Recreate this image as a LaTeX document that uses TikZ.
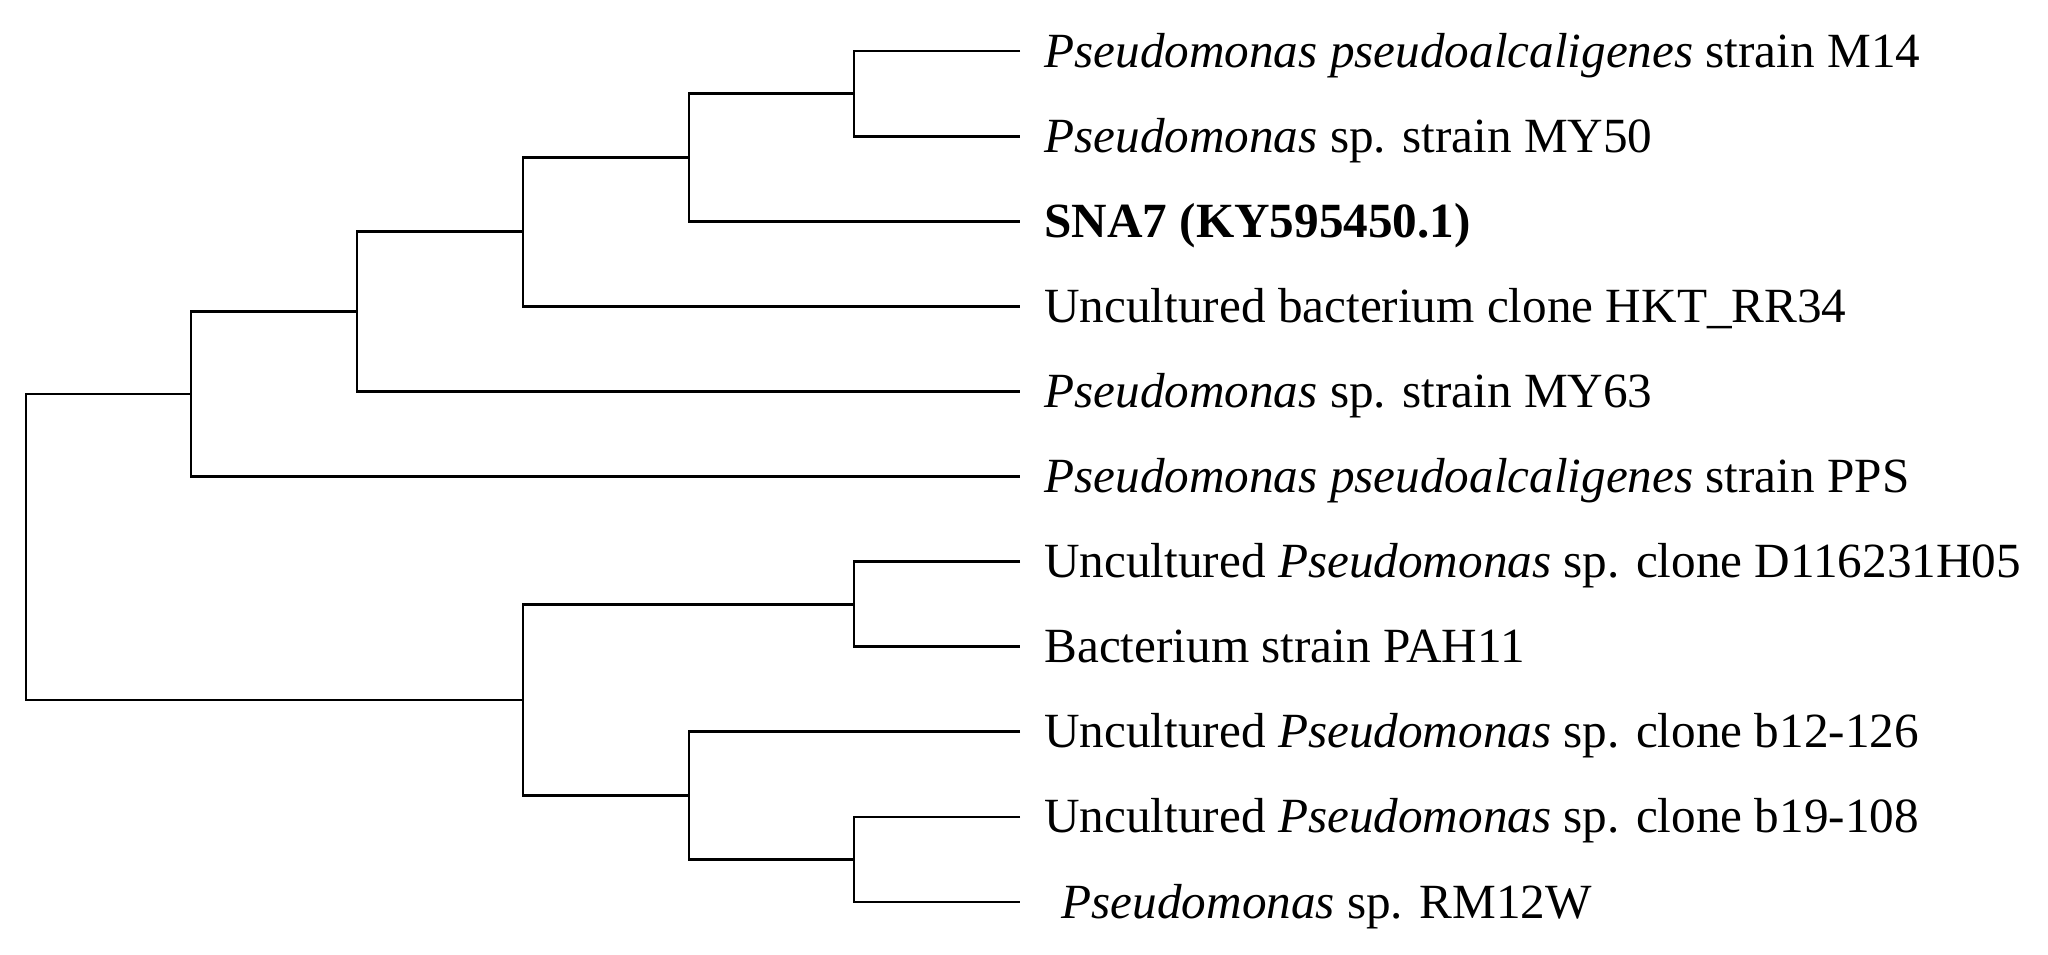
\documentclass[tikz,border=0pt]{standalone}
\usepackage{fontspec}
\setmainfont{Liberation Serif}
\begin{document}
\begin{tikzpicture}[x=0.5pt,y=-0.5pt,
  branch/.style={line width=1.4pt, line join=miter},
  lab/.style={anchor=base west, inner sep=0pt, xshift=12pt, yshift=-8pt,
    font=\fontsize{24.6}{29}\selectfont}]
\useasboundingbox (0,0) rectangle (2048,954);
% leaf tips
\coordinate (t1) at (1020,51);
\coordinate (t2) at (1020,136.1);
\coordinate (t3) at (1020,221.2);
\coordinate (t4) at (1020,306.3);
\coordinate (t5) at (1020,391.4);
\coordinate (t6) at (1020,476.5);
\coordinate (t7) at (1020,561.6);
\coordinate (t8) at (1020,646.7);
\coordinate (t9) at (1020,731.8);
\coordinate (t10) at (1020,816.9);
\coordinate (t11) at (1020,902);
% internal nodes
\coordinate (E) at (854,93.55);
\coordinate (D) at (689,157.4);
\coordinate (C) at (523,231.8);
\coordinate (B) at (357,311.6);
\coordinate (A) at (191,394.0);
\coordinate (G) at (854,604.15);
\coordinate (I) at (854,859.45);
\coordinate (H) at (689,795.6);
\coordinate (F) at (523,699.9);
\coordinate (R) at (26,546.9);
% branches
\draw[branch] (t1) -| (E) |- (t2);
\draw[branch] (E) -| (D) |- (t3);
\draw[branch] (D) -| (C) |- (t4);
\draw[branch] (C) -| (B) |- (t5);
\draw[branch] (B) -| (A) |- (t6);
\draw[branch] (t7) -| (G) |- (t8);
\draw[branch] (t10) -| (I) |- (t11);
\draw[branch] (t9) -| (H) |- (I);
\draw[branch] (G) -| (F) |- (H);
\draw[branch] (A) -| (R) |- (F);
% labels
\node[lab] (n1) at (t1) {\textit{Pseudomonas pseudoalcaligenes} strain M14};
\node[lab] (n2) at (t2) {\textit{Pseudomonas} sp. strain MY50};
\node[lab] (n3) at (t3) {\textbf{SNA7 (KY595450.1)}};
\node[lab] (n4) at (t4) {Uncultured bacterium clone HKT\_RR34};
\node[lab] (n5) at (t5) {\textit{Pseudomonas} sp. strain MY63};
\node[lab] (n6) at (t6) {\textit{Pseudomonas pseudoalcaligenes} strain PPS};
\node[lab] (n7) at (t7) {Uncultured \textit{Pseudomonas} sp. clone D116231H05};
\node[lab] (n8) at (t8) {Bacterium strain PAH11};
\node[lab] (n9) at (t9) {Uncultured \textit{Pseudomonas} sp. clone b12-126};
\node[lab] (n10) at (t10) {Uncultured \textit{Pseudomonas} sp. clone b19-108};
\node[lab] (n11) at (t11) {\hspace*{0.35em}\textit{Pseudomonas} sp. RM12W};
\end{tikzpicture}
\end{document}
